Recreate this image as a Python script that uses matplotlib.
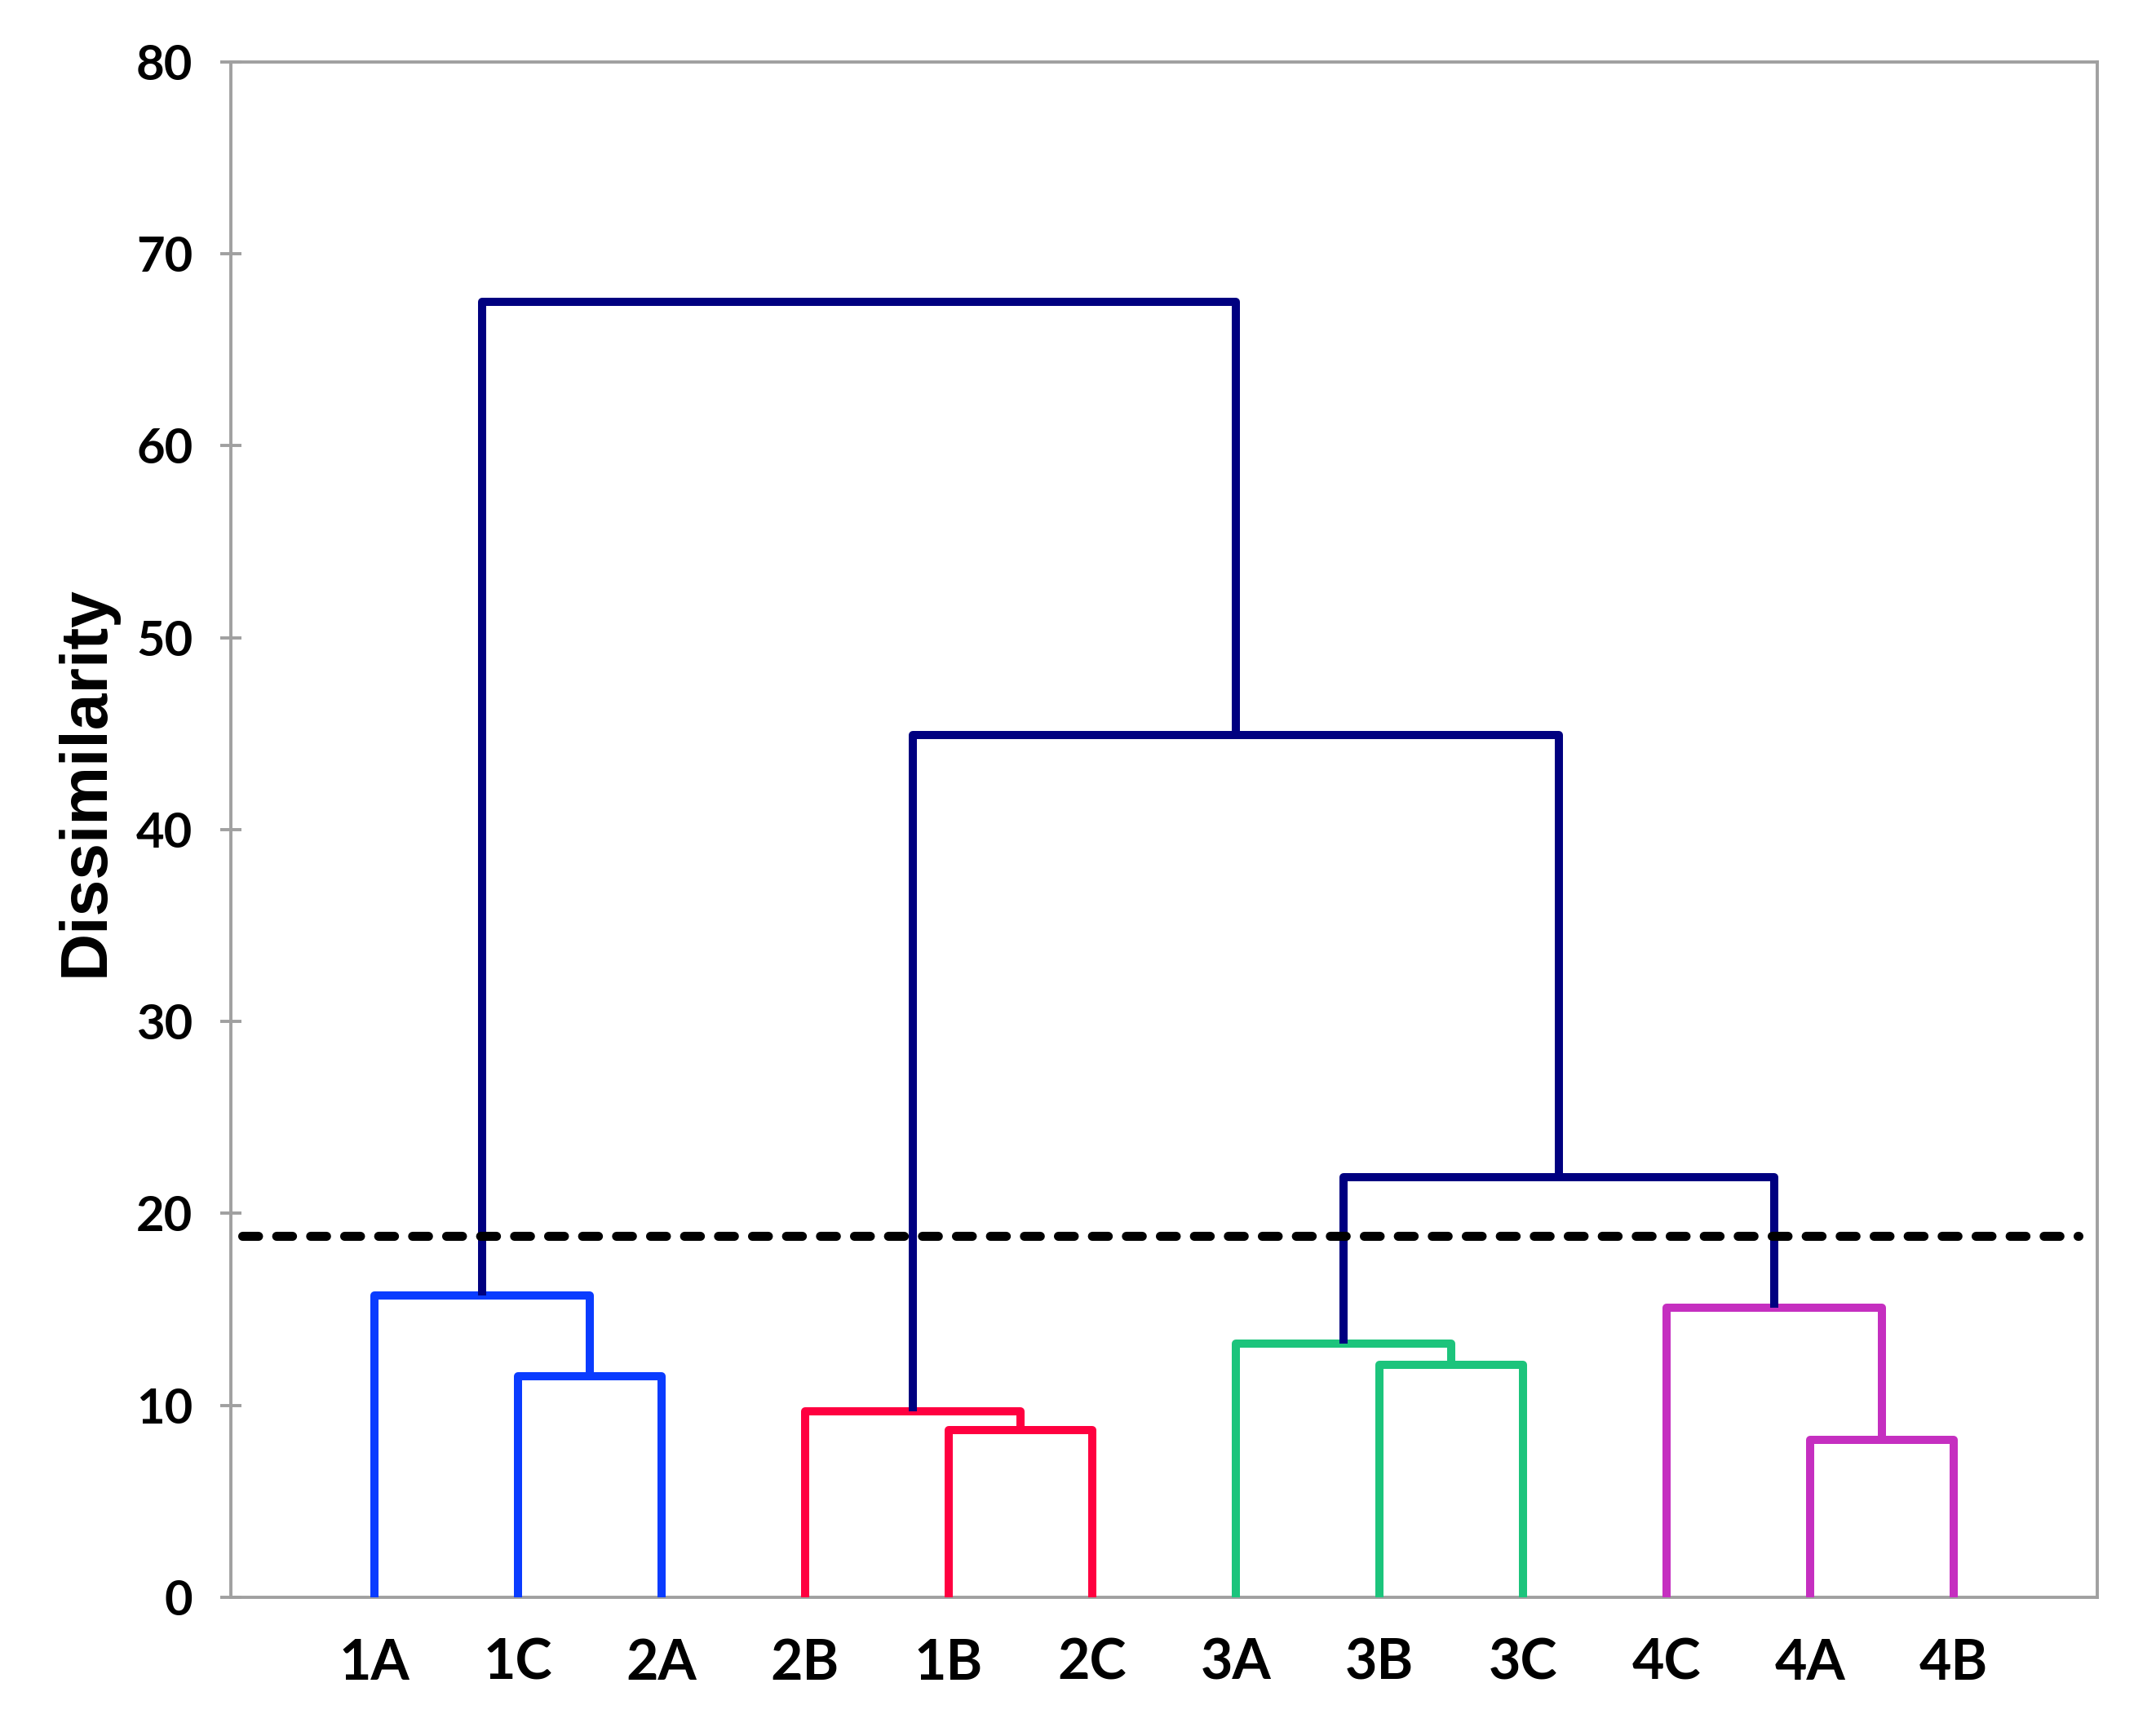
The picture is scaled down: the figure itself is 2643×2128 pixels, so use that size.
import matplotlib
matplotlib.use('Agg')
import matplotlib.pyplot as plt

# leaf order along the x axis
leaf_labels = ['1A', '1C', '2A', '2B', '1B', '2C', '3A', '3B', '3C', '4C', '4A', '4B']

# merges: (child a, child b, height); ids 0-11 are leaves, 12+ are merges in order
merge_left = [1, 0, 4, 3, 7, 6, 10, 9, 17, 15, 13]
merge_right = [2, 12, 5, 14, 8, 16, 11, 18, 19, 20, 21]
merge_height = [11.5, 15.7, 8.7, 9.7, 12.1, 13.2, 8.2, 15.1, 21.9, 44.9, 67.5]
merge_group = ['g1', 'g1', 'g2', 'g2', 'g3', 'g3', 'g4', 'g4', 'top', 'top', 'top']

cut_height = 18.8

group_colors = {'g1': '#0A3CFF', 'g2': '#FF0040', 'g3': '#1CC47C',
                'g4': '#C52FC0', 'top': '#000080'}

fig = plt.figure(figsize=(26.43, 21.28), dpi=100)
ax = fig.add_axes([0.107, 0.080, 0.8656, 0.8844])

# positions and heights of every node
node_x = [i + 1 for i in range(len(leaf_labels))]
node_h = [0.0] * len(leaf_labels)

for a, b, h, g in zip(merge_left, merge_right, merge_height, merge_group):
    xa, xb = node_x[a], node_x[b]
    ha, hb = node_h[a], node_h[b]
    ax.plot([xa, xa, xb, xb], [ha, h, h, hb], color=group_colors[g],
            linewidth=7.2, solid_joinstyle='round', solid_capstyle='butt', zorder=3)
    node_x.append((xa + xb) / 2)
    node_h.append(h)

ax.axhline(cut_height, xmin=0.006, xmax=0.99, color='black', linewidth=8,
           linestyle=(0, (1.75, 2.0)), dash_capstyle='round', zorder=4)

ax.set_xlim(0, 13)
ax.set_ylim(0, 80)
ax.set_yticks(range(0, 81, 10))
ax.set_xticks(range(1, len(leaf_labels) + 1))
ax.set_xticklabels(leaf_labels)

for s in ax.spines.values():
    s.set_color('#a0a0a0')
    s.set_linewidth(2.8)

ax.tick_params(axis='y', direction='inout', length=19, width=2.8,
               color='#a0a0a0', pad=24)
ax.tick_params(axis='x', length=0, pad=36)

for lab in ax.get_yticklabels():
    lab.set_fontfamily('Lato')
    lab.set_fontweight('bold')
    lab.set_fontsize(43)
for lab in ax.get_xticklabels():
    lab.set_fontfamily('Lato')
    lab.set_fontweight('bold')
    lab.set_fontsize(49)

fig.text(0.040, 0.55, 'Dissimilarity', rotation=90, ha='center', va='center',
         fontsize=58, fontweight='bold', family='Liberation Sans')

plt.savefig('out.png', dpi=100)
